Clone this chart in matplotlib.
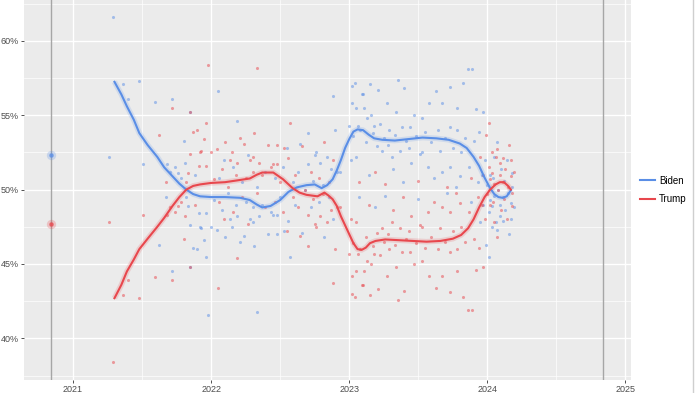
import matplotlib
matplotlib.use("Agg")
import matplotlib.pyplot as plt
from matplotlib.lines import Line2D
from matplotlib.ticker import MultipleLocator, FuncFormatter

plt.rcParams['font.family'] = ['Liberation Sans', 'DejaVu Sans']

# election results (two-party share)
election_dates = [2020.84, 2024.84]
biden_2020 = 52.3
trump_2020 = 47.7

# individual polls: date, Biden share, Trump share
poll_dates = [
    2021.26, 2021.29, 2021.36, 2021.40, 2021.48, 2021.51, 2021.59, 2021.62, 2021.67, 2021.68,
    2021.70, 2021.72, 2021.72, 2021.74, 2021.76, 2021.78, 2021.80, 2021.81, 2021.82, 2021.83,
    2021.85, 2021.85, 2021.85, 2021.87, 2021.88, 2021.90, 2021.91, 2021.92, 2021.93, 2021.95,
    2021.96, 2021.96, 2021.98,
    2022.00, 2022.02, 2022.04, 2022.05, 2022.06, 2022.08, 2022.09, 2022.10, 2022.12, 2022.14,
    2022.15, 2022.16, 2022.18, 2022.19, 2022.19, 2022.21, 2022.22, 2022.24, 2022.25, 2022.27,
    2022.28, 2022.30, 2022.30, 2022.31, 2022.33, 2022.33, 2022.35, 2022.37, 2022.39, 2022.41,
    2022.43, 2022.45, 2022.46, 2022.48, 2022.48, 2022.50, 2022.52, 2022.53, 2022.55, 2022.56,
    2022.57, 2022.59, 2022.61, 2022.63, 2022.64, 2022.66, 2022.68, 2022.70, 2022.70, 2022.72,
    2022.74, 2022.75, 2022.76, 2022.78, 2022.79, 2022.81, 2022.82, 2022.84, 2022.85, 2022.87,
    2022.88, 2022.88, 2022.90, 2022.91, 2022.93,
    2023.00, 2023.01, 2023.02, 2023.02, 2023.03, 2023.04, 2023.05, 2023.05, 2023.06, 2023.07,
    2023.08, 2023.09, 2023.10, 2023.11, 2023.12, 2023.13, 2023.14, 2023.15, 2023.16, 2023.17,
    2023.18, 2023.19, 2023.20, 2023.21, 2023.22, 2023.24, 2023.25, 2023.26, 2023.27, 2023.28,
    2023.29, 2023.31, 2023.32, 2023.33, 2023.34, 2023.35, 2023.37, 2023.38, 2023.39, 2023.40,
    2023.41, 2023.43, 2023.44, 2023.45, 2023.47, 2023.48, 2023.50, 2023.51, 2023.53, 2023.53,
    2023.55, 2023.57, 2023.58, 2023.59, 2023.61, 2023.63, 2023.64, 2023.66, 2023.67, 2023.67,
    2023.69, 2023.71, 2023.73, 2023.73, 2023.73, 2023.75, 2023.77, 2023.78, 2023.78, 2023.80,
    2023.81, 2023.82, 2023.84, 2023.86, 2023.87, 2023.88, 2023.89, 2023.90, 2023.92, 2023.93,
    2023.94, 2023.95, 2023.96, 2023.97, 2023.97, 2023.98, 2023.99, 2024.00, 2024.01, 2024.01,
    2024.02, 2024.02, 2024.03, 2024.03, 2024.04, 2024.05, 2024.05, 2024.06, 2024.07, 2024.07,
    2024.08, 2024.09, 2024.09, 2024.10, 2024.11, 2024.11, 2024.12, 2024.13, 2024.14, 2024.15,
    2024.16, 2024.17, 2024.17, 2024.18, 2024.18, 2024.19,
]
biden_polls = [
    52.2, 61.6, 57.1, 56.1, 57.3, 51.7, 55.9, 46.3, 49.5, 51.7,
    51.2, 56.1, 44.5, 51.5, 51.1, 50.8, 53.3, 51.8, 49.5, 48.9,
    55.2, 44.8, 47.6, 46.1, 51.0, 46.0, 48.4, 47.5, 47.4, 46.6,
    45.5, 48.4, 41.6,
    47.5, 49.3, 47.3, 56.6, 50.8, 48.6, 52.0, 46.8, 49.8, 48.0,
    47.5, 51.5, 49.0, 54.6, 48.2, 46.5, 50.5, 46.9, 49.2, 52.3,
    48.0, 47.8, 48.8, 46.2, 50.2, 41.8, 48.2, 49.0, 51.2, 47.0,
    48.5, 48.3, 50.8, 47.0, 48.3, 49.5, 51.5, 47.2, 52.8, 47.9,
    45.5, 50.5, 49.0, 51.2, 53.1, 47.1, 50.0, 53.8, 51.7, 48.8,
    50.6, 52.3, 52.5, 49.2, 51.8, 50.3, 46.8, 52.2, 49.5, 51.4,
    56.3, 48.0, 54.0, 51.2, 51.2,
    54.3, 52.0, 57.0, 55.8, 53.6, 57.2, 52.2, 55.5, 54.3, 49.5,
    54.0, 56.4, 56.4, 55.5, 53.2, 54.8, 51.0, 57.1, 55.0, 53.8,
    54.3, 48.8, 52.9, 56.7, 54.4, 52.6, 53.5, 49.6, 55.8, 53.0,
    54.0, 52.2, 51.4, 53.7, 55.2, 57.4, 52.6, 54.2, 50.5, 56.8,
    53.3, 52.8, 54.2, 51.8, 55.0, 53.6, 49.4, 52.4, 54.8, 52.5,
    53.9, 51.5, 55.8, 53.2, 50.8, 56.6, 54.0, 52.6, 55.8, 51.2,
    53.5, 49.8, 56.9, 54.2, 51.5, 52.8, 50.2, 55.5, 54.0, 50.9,
    52.5, 57.2, 53.5, 58.1, 51.5, 49.2, 58.1, 53.3, 55.4, 50.5,
    53.9, 47.8, 51.0, 55.2, 49.0, 52.0, 46.3, 50.3, 45.5, 48.5,
    49.3, 51.0, 48.9, 47.5, 50.8, 52.2, 49.6, 47.8, 53.2, 47.3,
    50.0, 49.0, 48.2, 51.4, 47.9, 49.5, 50.6, 48.6, 52.0, 49.8,
    47.0, 49.1, 48.0, 51.1, 50.2, 48.8,
]
trump_polls = [
    47.8, 38.4, 42.9, 43.9, 42.7, 48.3, 44.1, 53.7, 50.5, 48.3,
    48.8, 43.9, 55.5, 48.5, 48.9, 49.2, 46.7, 48.2, 50.5, 51.1,
    44.8, 55.2, 52.4, 53.9, 49.0, 54.0, 51.6, 52.5, 52.6, 53.4,
    54.5, 51.6, 58.4,
    52.5, 50.7, 52.7, 43.4, 49.2, 51.4, 48.0, 53.2, 50.2, 52.0,
    52.5, 48.5, 51.0, 45.4, 51.8, 53.5, 49.5, 53.1, 50.8, 47.7,
    52.0, 52.2, 51.2, 53.8, 49.8, 58.2, 51.8, 51.0, 48.8, 53.0,
    51.5, 51.7, 49.2, 53.0, 51.7, 50.5, 48.5, 52.8, 47.2, 52.1,
    54.5, 49.5, 51.0, 48.8, 46.9, 52.9, 50.0, 46.2, 48.3, 51.2,
    49.4, 47.7, 47.5, 50.8, 48.2, 49.7, 53.2, 47.8, 50.5, 48.6,
    43.7, 52.0, 46.0, 48.8, 48.8,
    45.7, 48.0, 43.0, 44.2, 46.4, 42.8, 47.8, 44.5, 45.7, 50.5,
    46.0, 43.6, 43.6, 44.5, 46.8, 45.2, 49.0, 42.9, 45.0, 46.2,
    45.7, 51.2, 47.1, 43.3, 45.6, 47.4, 46.5, 50.4, 44.2, 47.0,
    46.0, 47.8, 48.6, 46.3, 44.8, 42.6, 47.4, 45.8, 49.5, 43.2,
    46.7, 47.2, 45.8, 48.2, 45.0, 46.4, 50.6, 47.6, 45.2, 47.5,
    46.1, 48.5, 44.2, 46.8, 49.2, 43.4, 46.0, 47.4, 44.2, 48.8,
    46.5, 50.2, 43.1, 45.8, 48.5, 47.2, 49.8, 44.5, 46.0, 49.1,
    47.5, 42.8, 46.5, 41.9, 48.5, 50.8, 41.9, 46.7, 44.6, 49.5,
    46.1, 52.2, 49.0, 44.8, 51.0, 48.0, 53.7, 49.7, 54.5, 51.5,
    50.7, 49.0, 51.1, 52.5, 49.2, 47.8, 50.4, 52.2, 46.8, 52.7,
    50.0, 51.0, 51.8, 48.6, 52.1, 50.5, 49.4, 51.4, 48.0, 50.2,
    53.0, 50.9, 52.0, 48.9, 49.8, 51.2,
]

# smoothed trend lines
biden_trend_dates = [
    2021.30, 2021.35, 2021.39, 2021.44, 2021.48, 2021.54, 2021.61, 2021.66, 2021.72, 2021.77,
    2021.82, 2021.87, 2021.92, 2022.00, 2022.10, 2022.21, 2022.28, 2022.33, 2022.37, 2022.43,
    2022.50, 2022.56, 2022.62, 2022.69, 2022.75, 2022.80, 2022.84, 2022.88, 2022.91, 2022.94,
    2022.97, 2023.00, 2023.03, 2023.06, 2023.10, 2023.14, 2023.18, 2023.24, 2023.33, 2023.43,
    2023.53, 2023.63, 2023.72, 2023.80, 2023.85, 2023.90, 2023.94, 2023.98, 2024.02, 2024.05,
    2024.08, 2024.11, 2024.14, 2024.17,
]
biden_trend = [
    57.25, 56.4, 55.6, 54.7, 53.8, 53.0, 52.2, 51.5, 50.9, 50.4,
    50.0, 49.7, 49.55, 49.5, 49.5, 49.45, 49.3, 49.0, 48.8, 48.9,
    49.3, 49.85, 50.15, 50.3, 50.35, 50.1, 50.3, 50.7, 51.3, 52.0,
    52.8, 53.4, 53.9, 54.05, 54.0, 53.7, 53.45, 53.35, 53.3, 53.4,
    53.5, 53.45, 53.35, 53.1, 52.8, 52.2, 51.6, 50.8, 50.1, 49.7,
    49.5, 49.45, 49.55, 49.95,
]
trump_trend_dates = [
    2021.30, 2021.35, 2021.39, 2021.44, 2021.48, 2021.54, 2021.61, 2021.66, 2021.72, 2021.77,
    2021.82, 2021.87, 2021.92, 2022.00, 2022.10, 2022.21, 2022.28, 2022.33, 2022.37, 2022.45,
    2022.52, 2022.59, 2022.64, 2022.69, 2022.77, 2022.82, 2022.85, 2022.88, 2022.91, 2022.94,
    2022.97, 2023.00, 2023.03, 2023.06, 2023.09, 2023.12, 2023.15, 2023.19, 2023.26, 2023.36,
    2023.46, 2023.56, 2023.66, 2023.75, 2023.81, 2023.86, 2023.90, 2023.94, 2023.98, 2024.02,
    2024.06, 2024.09, 2024.12, 2024.15, 2024.17,
]
trump_trend = [
    42.7, 43.6, 44.5, 45.3, 46.0, 46.7, 47.5, 48.1, 48.9, 49.5,
    50.0, 50.25, 50.35, 50.45, 50.5, 50.65, 50.75, 51.0, 51.15, 51.15,
    50.7, 50.1, 49.8, 49.65, 49.55, 49.8, 49.6, 49.35, 48.9, 48.2,
    47.6, 47.0, 46.4, 46.0, 45.95, 46.1, 46.4, 46.55, 46.65, 46.6,
    46.55, 46.5, 46.55, 46.7, 46.95, 47.4, 48.0, 48.8, 49.5, 50.0,
    50.35, 50.5, 50.5, 50.25, 50.0,
]

BLUE = "#5a8ee6"
RED = "#e8474d"

fig = plt.figure(figsize=(7, 3.93), dpi=100)
ax = fig.add_axes([24 / 700, 13 / 393, 607 / 700, 380 / 393])
ax.set_facecolor("#ebebeb")

ax.scatter(poll_dates, biden_polls, s=5, color=BLUE, alpha=0.5, linewidths=0, zorder=3)
ax.scatter(poll_dates, trump_polls, s=5, color=RED, alpha=0.5, linewidths=0, zorder=3)

# faint band around each trend, then the trend itself
ax.plot(biden_trend_dates, biden_trend, color=BLUE, lw=4, alpha=0.18,
        solid_capstyle="butt", solid_joinstyle="round", zorder=4)
ax.plot(trump_trend_dates, trump_trend, color=RED, lw=4, alpha=0.18,
        solid_capstyle="butt", solid_joinstyle="round", zorder=4)
ax.plot(biden_trend_dates, biden_trend, color=BLUE, lw=1.5, zorder=5,
        solid_joinstyle="round", label="Biden")
ax.plot(trump_trend_dates, trump_trend, color=RED, lw=1.5, zorder=5,
        solid_joinstyle="round", label="Trump")

for d in election_dates:
    ax.axvline(d, color="#a6a6a6", lw=1.0, zorder=2)

ax.scatter([election_dates[0]], [biden_2020], s=45, color=BLUE, alpha=0.25, linewidths=0, zorder=6)
ax.scatter([election_dates[0]], [biden_2020], s=10, color=BLUE, alpha=0.8, linewidths=0, zorder=6)
ax.scatter([election_dates[0]], [trump_2020], s=45, color=RED, alpha=0.25, linewidths=0, zorder=6)
ax.scatter([election_dates[0]], [trump_2020], s=10, color=RED, alpha=0.8, linewidths=0, zorder=6)

ax.set_xlim(2020.645, 2025.04)
ax.set_ylim(37.2, 62.75)
ax.xaxis.set_major_locator(MultipleLocator(1))
ax.xaxis.set_minor_locator(MultipleLocator(0.5))
ax.yaxis.set_major_locator(MultipleLocator(5))
ax.yaxis.set_minor_locator(MultipleLocator(2.5))
ax.xaxis.set_major_formatter(FuncFormatter(lambda v, p: f"{int(round(v))}"))
ax.yaxis.set_major_formatter(FuncFormatter(lambda v, p: f"{int(round(v))}%"))
ax.grid(which="major", color="white", lw=1.0)
ax.grid(which="minor", color="white", lw=0.5)
ax.set_axisbelow(True)
for s in ax.spines.values():
    s.set_visible(False)
ax.tick_params(which="major", length=2.5, width=0.6, color="#333333",
               labelsize=6.5, labelcolor="#4d4d4d", pad=1)
ax.tick_params(which="minor", length=0)

leg = ax.legend(loc="center left", bbox_to_anchor=(1.008, 0.5), frameon=False,
                fontsize=7, handlelength=1.6, handletextpad=0.4, labelspacing=0.9,
                borderaxespad=0)
for h in leg.legend_handles:
    h.set_linewidth(1.5)

fig.add_artist(Line2D([0.99, 0.99], [0, 1], color="#cfcfcf", lw=1.0))

fig.savefig("out.png", dpi=100)
